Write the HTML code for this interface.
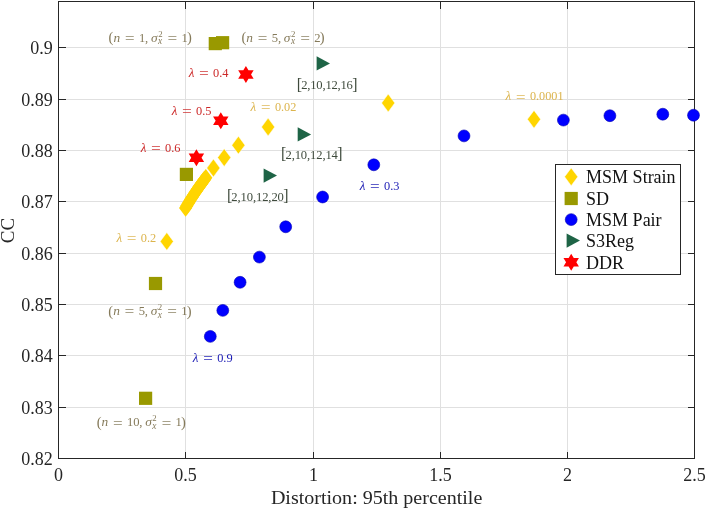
<!DOCTYPE html>
<html><head><meta charset="utf-8"><style>html,body{margin:0;padding:0;background:#fff;width:707px;height:509px;overflow:hidden;position:relative}</style></head>
<body>
<svg width="707" height="509" viewBox="0 0 707 509" style="position:absolute;left:0;top:0;will-change:transform">
<rect width="707" height="509" fill="#fff"/>
<path d="M185.5 1.5V458.5M313.5 1.5V458.5M440.5 1.5V458.5M567.5 1.5V458.5M58.5 407.5H694.5M58.5 355.5H694.5M58.5 304.5H694.5M58.5 253.5H694.5M58.5 201.5H694.5M58.5 150.5H694.5M58.5 99.5H694.5M58.5 47.5H694.5" stroke="#e0e0e0" stroke-width="1" fill="none" shape-rendering="crispEdges"/>
<text x="191.55" y="76.80" text-anchor="middle" font-family="Liberation Serif, serif" font-size="13.0" fill="#cc2828" font-style="italic">λ</text><path d="M199.95 71.50H207.95M199.95 74.50H207.95" stroke="#cc2828" stroke-width="1" stroke-opacity="0.7" fill="none"/><text x="213.10" y="76.80" font-family="Liberation Serif, serif" font-size="13.1" fill="#cc2828" textLength="15.46" lengthAdjust="spacingAndGlyphs">0.4</text>
<text x="174.55" y="115.10" text-anchor="middle" font-family="Liberation Serif, serif" font-size="13.0" fill="#cc2828" font-style="italic">λ</text><path d="M182.95 109.50H190.95M182.95 112.50H190.95" stroke="#cc2828" stroke-width="1" stroke-opacity="0.7" fill="none"/><text x="196.10" y="115.10" font-family="Liberation Serif, serif" font-size="13.1" fill="#cc2828" textLength="15.46" lengthAdjust="spacingAndGlyphs">0.5</text>
<text x="143.55" y="152.10" text-anchor="middle" font-family="Liberation Serif, serif" font-size="13.0" fill="#cc2828" font-style="italic">λ</text><path d="M151.95 146.50H159.95M151.95 149.50H159.95" stroke="#cc2828" stroke-width="1" stroke-opacity="0.7" fill="none"/><text x="165.10" y="152.10" font-family="Liberation Serif, serif" font-size="13.1" fill="#cc2828" textLength="15.46" lengthAdjust="spacingAndGlyphs">0.6</text>
<text x="253.35" y="110.90" text-anchor="middle" font-family="Liberation Serif, serif" font-size="13.0" fill="#dcb44c" font-style="italic">λ</text><path d="M261.75 105.50H269.75M261.75 108.50H269.75" stroke="#dcb44c" stroke-width="1" stroke-opacity="0.7" fill="none"/><text x="274.90" y="110.90" font-family="Liberation Serif, serif" font-size="13.1" fill="#dcb44c" textLength="21.51" lengthAdjust="spacingAndGlyphs">0.02</text>
<text x="508.35" y="100.40" text-anchor="middle" font-family="Liberation Serif, serif" font-size="13.0" fill="#dcb44c" font-style="italic">λ</text><path d="M516.75 95.50H524.75M516.75 98.50H524.75" stroke="#dcb44c" stroke-width="1" stroke-opacity="0.7" fill="none"/><text x="529.90" y="100.40" font-family="Liberation Serif, serif" font-size="13.1" fill="#dcb44c" textLength="33.61" lengthAdjust="spacingAndGlyphs">0.0001</text>
<text x="119.25" y="242.20" text-anchor="middle" font-family="Liberation Serif, serif" font-size="13.0" fill="#dcb44c" font-style="italic">λ</text><path d="M127.65 236.50H135.65M127.65 239.50H135.65" stroke="#dcb44c" stroke-width="1" stroke-opacity="0.7" fill="none"/><text x="140.80" y="242.20" font-family="Liberation Serif, serif" font-size="13.1" fill="#dcb44c" textLength="15.46" lengthAdjust="spacingAndGlyphs">0.2</text>
<text x="362.45" y="190.10" text-anchor="middle" font-family="Liberation Serif, serif" font-size="13.0" fill="#1a1ab4" font-style="italic">λ</text><path d="M370.85 184.50H378.85M370.85 187.50H378.85" stroke="#1a1ab4" stroke-width="1" stroke-opacity="0.7" fill="none"/><text x="384.00" y="190.10" font-family="Liberation Serif, serif" font-size="13.1" fill="#1a1ab4" textLength="15.46" lengthAdjust="spacingAndGlyphs">0.3</text>
<text x="195.65" y="361.70" text-anchor="middle" font-family="Liberation Serif, serif" font-size="13.0" fill="#1a1ab4" font-style="italic">λ</text><path d="M204.05 356.50H212.05M204.05 359.50H212.05" stroke="#1a1ab4" stroke-width="1" stroke-opacity="0.7" fill="none"/><text x="217.20" y="361.70" font-family="Liberation Serif, serif" font-size="13.1" fill="#1a1ab4" textLength="15.46" lengthAdjust="spacingAndGlyphs">0.9</text>
<text x="296.80" y="89.50" font-family="Liberation Serif, serif" font-size="15.8" fill="#3e4a3c">[</text><text x="357.50" y="89.50" font-family="Liberation Serif, serif" font-size="15.8" fill="#3e4a3c" text-anchor="end">]</text><text x="301.20" y="89.00" font-family="Liberation Serif, serif" font-size="12.6" fill="#3e4a3c" textLength="51.70" lengthAdjust="spacing">2,10,12,16</text>
<text x="281.10" y="159.10" font-family="Liberation Serif, serif" font-size="15.8" fill="#3e4a3c">[</text><text x="342.50" y="159.10" font-family="Liberation Serif, serif" font-size="15.8" fill="#3e4a3c" text-anchor="end">]</text><text x="285.50" y="158.60" font-family="Liberation Serif, serif" font-size="12.6" fill="#3e4a3c" textLength="52.40" lengthAdjust="spacing">2,10,12,14</text>
<text x="226.90" y="201.40" font-family="Liberation Serif, serif" font-size="15.8" fill="#3e4a3c">[</text><text x="288.50" y="201.40" font-family="Liberation Serif, serif" font-size="15.8" fill="#3e4a3c" text-anchor="end">]</text><text x="231.30" y="200.90" font-family="Liberation Serif, serif" font-size="12.6" fill="#3e4a3c" textLength="52.60" lengthAdjust="spacing">2,10,12,20</text>
<text x="111.00" y="42.10" text-anchor="middle" font-family="Liberation Serif, serif" font-size="14.5" fill="#857a5a">(</text><text x="116.85" y="41.80" text-anchor="middle" font-family="Liberation Serif, serif" font-size="13.4" fill="#857a5a" font-style="italic">n</text><path d="M125.75 36.50H133.75M125.75 39.50H133.75" stroke="#857a5a" stroke-width="1" stroke-opacity="0.7" fill="none"/><text x="142.15" y="41.80" text-anchor="middle" font-family="Liberation Serif, serif" font-size="12.6" fill="#857a5a">1</text><text x="146.70" y="41.80" text-anchor="middle" font-family="Liberation Serif, serif" font-size="12.6" fill="#857a5a">,</text><text x="154.35" y="41.80" text-anchor="middle" font-family="Liberation Serif, serif" font-size="13.4" fill="#857a5a" font-style="italic">σ</text><text x="160.35" y="36.50" text-anchor="middle" font-family="Liberation Serif, serif" font-size="8.8" fill="#857a5a">2</text><text x="160.20" y="44.10" text-anchor="middle" font-family="Liberation Serif, serif" font-size="9.4" fill="#857a5a" font-style="italic">x</text><path d="M168.40 36.50H176.40M168.40 39.50H176.40" stroke="#857a5a" stroke-width="1" stroke-opacity="0.7" fill="none"/><text x="184.60" y="41.80" text-anchor="middle" font-family="Liberation Serif, serif" font-size="12.6" fill="#857a5a">1</text><text x="189.35" y="42.10" text-anchor="middle" font-family="Liberation Serif, serif" font-size="14.5" fill="#857a5a">)</text>
<text x="243.80" y="42.10" text-anchor="middle" font-family="Liberation Serif, serif" font-size="14.5" fill="#857a5a">(</text><text x="249.65" y="41.80" text-anchor="middle" font-family="Liberation Serif, serif" font-size="13.4" fill="#857a5a" font-style="italic">n</text><path d="M258.55 36.50H266.55M258.55 39.50H266.55" stroke="#857a5a" stroke-width="1" stroke-opacity="0.7" fill="none"/><text x="274.95" y="41.80" text-anchor="middle" font-family="Liberation Serif, serif" font-size="12.6" fill="#857a5a">5</text><text x="279.50" y="41.80" text-anchor="middle" font-family="Liberation Serif, serif" font-size="12.6" fill="#857a5a">,</text><text x="287.15" y="41.80" text-anchor="middle" font-family="Liberation Serif, serif" font-size="13.4" fill="#857a5a" font-style="italic">σ</text><text x="293.15" y="36.50" text-anchor="middle" font-family="Liberation Serif, serif" font-size="8.8" fill="#857a5a">2</text><text x="293.00" y="44.10" text-anchor="middle" font-family="Liberation Serif, serif" font-size="9.4" fill="#857a5a" font-style="italic">x</text><path d="M301.20 36.50H309.20M301.20 39.50H309.20" stroke="#857a5a" stroke-width="1" stroke-opacity="0.7" fill="none"/><text x="317.40" y="41.80" text-anchor="middle" font-family="Liberation Serif, serif" font-size="12.6" fill="#857a5a">2</text><text x="322.15" y="42.10" text-anchor="middle" font-family="Liberation Serif, serif" font-size="14.5" fill="#857a5a">)</text>
<text x="110.70" y="315.50" text-anchor="middle" font-family="Liberation Serif, serif" font-size="14.5" fill="#857a5a">(</text><text x="116.55" y="315.20" text-anchor="middle" font-family="Liberation Serif, serif" font-size="13.4" fill="#857a5a" font-style="italic">n</text><path d="M125.45 309.50H133.45M125.45 312.50H133.45" stroke="#857a5a" stroke-width="1" stroke-opacity="0.7" fill="none"/><text x="141.85" y="315.20" text-anchor="middle" font-family="Liberation Serif, serif" font-size="12.6" fill="#857a5a">5</text><text x="146.40" y="315.20" text-anchor="middle" font-family="Liberation Serif, serif" font-size="12.6" fill="#857a5a">,</text><text x="154.05" y="315.20" text-anchor="middle" font-family="Liberation Serif, serif" font-size="13.4" fill="#857a5a" font-style="italic">σ</text><text x="160.05" y="309.90" text-anchor="middle" font-family="Liberation Serif, serif" font-size="8.8" fill="#857a5a">2</text><text x="159.90" y="317.50" text-anchor="middle" font-family="Liberation Serif, serif" font-size="9.4" fill="#857a5a" font-style="italic">x</text><path d="M168.10 309.50H176.10M168.10 312.50H176.10" stroke="#857a5a" stroke-width="1" stroke-opacity="0.7" fill="none"/><text x="184.30" y="315.20" text-anchor="middle" font-family="Liberation Serif, serif" font-size="12.6" fill="#857a5a">1</text><text x="189.05" y="315.50" text-anchor="middle" font-family="Liberation Serif, serif" font-size="14.5" fill="#857a5a">)</text>
<text x="99.10" y="426.70" text-anchor="middle" font-family="Liberation Serif, serif" font-size="14.5" fill="#857a5a">(</text><text x="104.95" y="426.40" text-anchor="middle" font-family="Liberation Serif, serif" font-size="13.4" fill="#857a5a" font-style="italic">n</text><path d="M113.85 421.50H121.85M113.85 424.50H121.85" stroke="#857a5a" stroke-width="1" stroke-opacity="0.7" fill="none"/><text x="133.25" y="426.40" text-anchor="middle" font-family="Liberation Serif, serif" font-size="12.6" fill="#857a5a">10</text><text x="140.80" y="426.40" text-anchor="middle" font-family="Liberation Serif, serif" font-size="12.6" fill="#857a5a">,</text><text x="148.45" y="426.40" text-anchor="middle" font-family="Liberation Serif, serif" font-size="13.4" fill="#857a5a" font-style="italic">σ</text><text x="154.45" y="421.10" text-anchor="middle" font-family="Liberation Serif, serif" font-size="8.8" fill="#857a5a">2</text><text x="154.30" y="428.70" text-anchor="middle" font-family="Liberation Serif, serif" font-size="9.4" fill="#857a5a" font-style="italic">x</text><path d="M162.50 421.50H170.50M162.50 424.50H170.50" stroke="#857a5a" stroke-width="1" stroke-opacity="0.7" fill="none"/><text x="178.70" y="426.40" text-anchor="middle" font-family="Liberation Serif, serif" font-size="12.6" fill="#857a5a">1</text><text x="183.45" y="426.70" text-anchor="middle" font-family="Liberation Serif, serif" font-size="14.5" fill="#857a5a">)</text>
<path d="M58.5 1.5H694.5V458.5H58.5ZM58.5 458.5V451.5M58.5 1.5V8.5M185.5 458.5V451.5M185.5 1.5V8.5M313.5 458.5V451.5M313.5 1.5V8.5M440.5 458.5V451.5M440.5 1.5V8.5M567.5 458.5V451.5M567.5 1.5V8.5M694.5 458.5V451.5M694.5 1.5V8.5M58.5 458.5H65.5M694.5 458.5H687.5M58.5 407.5H65.5M694.5 407.5H687.5M58.5 355.5H65.5M694.5 355.5H687.5M58.5 304.5H65.5M694.5 304.5H687.5M58.5 253.5H65.5M694.5 253.5H687.5M58.5 201.5H65.5M694.5 201.5H687.5M58.5 150.5H65.5M694.5 150.5H687.5M58.5 99.5H65.5M694.5 99.5H687.5M58.5 47.5H65.5M694.5 47.5H687.5" stroke="#262626" stroke-width="1" fill="none" shape-rendering="crispEdges"/>
<path d="M185.60 199.00L192.20 207.90L185.60 216.80L179.00 207.90Z" fill="#ffd500" stroke="#ffd500" stroke-width="0"/>
<path d="M186.87 196.83L193.47 205.73L186.87 214.63L180.27 205.73Z" fill="#ffd500" stroke="#ffd500" stroke-width="0"/>
<path d="M188.15 194.69L194.75 203.59L188.15 212.49L181.55 203.59Z" fill="#ffd500" stroke="#ffd500" stroke-width="0"/>
<path d="M189.45 192.56L196.05 201.46L189.45 210.36L182.85 201.46Z" fill="#ffd500" stroke="#ffd500" stroke-width="0"/>
<path d="M190.75 190.46L197.35 199.36L190.75 208.26L184.15 199.36Z" fill="#ffd500" stroke="#ffd500" stroke-width="0"/>
<path d="M192.07 188.39L198.67 197.29L192.07 206.19L185.47 197.29Z" fill="#ffd500" stroke="#ffd500" stroke-width="0"/>
<path d="M193.39 186.34L199.99 195.24L193.39 204.14L186.79 195.24Z" fill="#ffd500" stroke="#ffd500" stroke-width="0"/>
<path d="M194.73 184.31L201.33 193.21L194.73 202.11L188.13 193.21Z" fill="#ffd500" stroke="#ffd500" stroke-width="0"/>
<path d="M196.07 182.30L202.67 191.20L196.07 200.10L189.47 191.20Z" fill="#ffd500" stroke="#ffd500" stroke-width="0"/>
<path d="M197.43 180.32L204.03 189.22L197.43 198.12L190.83 189.22Z" fill="#ffd500" stroke="#ffd500" stroke-width="0"/>
<path d="M198.80 178.36L205.40 187.26L198.80 196.16L192.20 187.26Z" fill="#ffd500" stroke="#ffd500" stroke-width="0"/>
<path d="M200.18 176.42L206.78 185.32L200.18 194.22L193.58 185.32Z" fill="#ffd500" stroke="#ffd500" stroke-width="0"/>
<path d="M201.57 174.50L208.17 183.40L201.57 192.30L194.97 183.40Z" fill="#ffd500" stroke="#ffd500" stroke-width="0"/>
<path d="M202.97 172.61L209.57 181.51L202.97 190.41L196.37 181.51Z" fill="#ffd500" stroke="#ffd500" stroke-width="0"/>
<path d="M204.38 170.74L210.98 179.64L204.38 188.54L197.78 179.64Z" fill="#ffd500" stroke="#ffd500" stroke-width="0"/>
<path d="M205.80 168.90L212.40 177.80L205.80 186.70L199.20 177.80Z" fill="#ffd500" stroke="#ffd500" stroke-width="0"/>
<path d="M388.20 94.10L394.80 103.00L388.20 111.90L381.60 103.00Z" fill="#ffd500" stroke="#fff" stroke-width="0.5"/>
<path d="M534.00 110.40L540.60 119.30L534.00 128.20L527.40 119.30Z" fill="#ffd500" stroke="#fff" stroke-width="0.5"/>
<path d="M268.10 118.10L274.70 127.00L268.10 135.90L261.50 127.00Z" fill="#ffd500" stroke="#fff" stroke-width="0.5"/>
<path d="M238.40 136.30L245.00 145.20L238.40 154.10L231.80 145.20Z" fill="#ffd500" stroke="#fff" stroke-width="0.5"/>
<path d="M224.20 148.70L230.80 157.60L224.20 166.50L217.60 157.60Z" fill="#ffd500" stroke="#fff" stroke-width="0.5"/>
<path d="M213.40 159.10L220.00 168.00L213.40 176.90L206.80 168.00Z" fill="#ffd500" stroke="#fff" stroke-width="0.5"/>
<path d="M166.80 232.50L173.40 241.40L166.80 250.30L160.20 241.40Z" fill="#ffd500" stroke="#fff" stroke-width="0.5"/>
<rect x="208.70" y="37.00" width="13.2" height="13.2" fill="#999900"/>
<rect x="216.00" y="36.10" width="13.2" height="13.2" fill="#999900"/>
<rect x="179.80" y="167.80" width="13.2" height="13.2" fill="#999900"/>
<rect x="148.90" y="276.90" width="13.2" height="13.2" fill="#999900"/>
<rect x="139.00" y="391.70" width="13.2" height="13.2" fill="#999900"/>
<circle cx="563.4" cy="120.1" r="5.95" fill="#0000ff" stroke="#0000b4" stroke-width="0.6"/>
<circle cx="609.9" cy="115.7" r="5.95" fill="#0000ff" stroke="#0000b4" stroke-width="0.6"/>
<circle cx="662.8" cy="114.2" r="5.95" fill="#0000ff" stroke="#0000b4" stroke-width="0.6"/>
<circle cx="693.5" cy="115.2" r="5.95" fill="#0000ff" stroke="#0000b4" stroke-width="0.6"/>
<circle cx="464" cy="135.9" r="5.95" fill="#0000ff" stroke="#0000b4" stroke-width="0.6"/>
<circle cx="373.8" cy="164.8" r="5.95" fill="#0000ff" stroke="#0000b4" stroke-width="0.6"/>
<circle cx="322.6" cy="197" r="5.95" fill="#0000ff" stroke="#0000b4" stroke-width="0.6"/>
<circle cx="285.7" cy="226.8" r="5.95" fill="#0000ff" stroke="#0000b4" stroke-width="0.6"/>
<circle cx="259.4" cy="257.1" r="5.95" fill="#0000ff" stroke="#0000b4" stroke-width="0.6"/>
<circle cx="240.1" cy="282.3" r="5.95" fill="#0000ff" stroke="#0000b4" stroke-width="0.6"/>
<circle cx="222.8" cy="310.4" r="5.95" fill="#0000ff" stroke="#0000b4" stroke-width="0.6"/>
<circle cx="210.3" cy="336.4" r="5.95" fill="#0000ff" stroke="#0000b4" stroke-width="0.6"/>
<path d="M316.60 56.20L330.00 63.40L316.60 70.60Z" fill="#1e6446"/>
<path d="M297.70 127.20L311.10 134.40L297.70 141.60Z" fill="#1e6446"/>
<path d="M263.60 168.40L277.00 175.60L263.60 182.80Z" fill="#1e6446"/>
<path d="M245.90 66.10L248.48 70.35L253.63 70.35L251.05 74.60L253.63 78.85L248.48 78.85L245.90 83.10L243.32 78.85L238.17 78.85L240.75 74.60L238.17 70.35L243.32 70.35Z" fill="#ff0000"/>
<path d="M220.80 112.20L223.38 116.45L228.53 116.45L225.95 120.70L228.53 124.95L223.38 124.95L220.80 129.20L218.22 124.95L213.07 124.95L215.65 120.70L213.07 116.45L218.22 116.45Z" fill="#ff0000"/>
<path d="M196.40 149.20L198.98 153.45L204.13 153.45L201.55 157.70L204.13 161.95L198.98 161.95L196.40 166.20L193.82 161.95L188.67 161.95L191.25 157.70L188.67 153.45L193.82 153.45Z" fill="#ff0000"/>
<text x="58.5" y="481" text-anchor="middle" font-family="Liberation Serif, serif" font-size="18" fill="#262626">0</text>
<text x="185.5" y="481" text-anchor="middle" font-family="Liberation Serif, serif" font-size="18" fill="#262626">0.5</text>
<text x="313.5" y="481" text-anchor="middle" font-family="Liberation Serif, serif" font-size="18" fill="#262626">1</text>
<text x="440.5" y="481" text-anchor="middle" font-family="Liberation Serif, serif" font-size="18" fill="#262626">1.5</text>
<text x="567.5" y="481" text-anchor="middle" font-family="Liberation Serif, serif" font-size="18" fill="#262626">2</text>
<text x="694.5" y="481" text-anchor="middle" font-family="Liberation Serif, serif" font-size="18" fill="#262626">2.5</text>
<text x="52.7" y="465.0" text-anchor="end" font-family="Liberation Serif, serif" font-size="18" fill="#262626">0.82</text>
<text x="52.7" y="414.0" text-anchor="end" font-family="Liberation Serif, serif" font-size="18" fill="#262626">0.83</text>
<text x="52.7" y="362.0" text-anchor="end" font-family="Liberation Serif, serif" font-size="18" fill="#262626">0.84</text>
<text x="52.7" y="311.0" text-anchor="end" font-family="Liberation Serif, serif" font-size="18" fill="#262626">0.85</text>
<text x="52.7" y="260.0" text-anchor="end" font-family="Liberation Serif, serif" font-size="18" fill="#262626">0.86</text>
<text x="52.7" y="208.0" text-anchor="end" font-family="Liberation Serif, serif" font-size="18" fill="#262626">0.87</text>
<text x="52.7" y="157.0" text-anchor="end" font-family="Liberation Serif, serif" font-size="18" fill="#262626">0.88</text>
<text x="52.7" y="106.0" text-anchor="end" font-family="Liberation Serif, serif" font-size="18" fill="#262626">0.89</text>
<text x="52.7" y="54.0" text-anchor="end" font-family="Liberation Serif, serif" font-size="18" fill="#262626">0.9</text>
<text x="270.9" y="503.6" font-family="Liberation Serif, serif" font-size="19" fill="#262626" textLength="211.4" lengthAdjust="spacingAndGlyphs">Distortion: 95th percentile</text>
<text transform="translate(14.2 230.5) rotate(-90)" text-anchor="middle" font-family="Liberation Serif, serif" font-size="19" fill="#262626">CC</text>
<rect x="555.5" y="164.5" width="125" height="110" fill="#fff" stroke="#262626" stroke-width="1" shape-rendering="crispEdges"/>
<path d="M571.20 167.90L577.80 176.80L571.20 185.70L564.60 176.80Z" fill="#ffd500" stroke="#fff" stroke-width="0.5"/>
<rect x="564.60" y="191.90" width="13.2" height="13.2" fill="#999900"/>
<circle cx="571.2" cy="219.6" r="5.95" fill="#0000ff" stroke="#0000b4" stroke-width="0.6"/>
<path d="M566.60 233.40L580.00 240.60L566.60 247.80Z" fill="#1e6446"/>
<path d="M571.20 253.80L573.78 258.05L578.93 258.05L576.35 262.30L578.93 266.55L573.78 266.55L571.20 270.80L568.62 266.55L563.47 266.55L566.05 262.30L563.47 258.05L568.62 258.05Z" fill="#ff0000"/>
<text x="586.1" y="183.20000000000002" font-family="Liberation Serif, serif" font-size="18" fill="#111">MSM Strain</text>
<text x="586.1" y="204.9" font-family="Liberation Serif, serif" font-size="18" fill="#111">SD</text>
<text x="586.1" y="226.0" font-family="Liberation Serif, serif" font-size="18" fill="#111">MSM Pair</text>
<text x="586.1" y="247.0" font-family="Liberation Serif, serif" font-size="18" fill="#111">S3Reg</text>
<text x="586.1" y="268.7" font-family="Liberation Serif, serif" font-size="18" fill="#111">DDR</text>
</svg>
</body></html>
